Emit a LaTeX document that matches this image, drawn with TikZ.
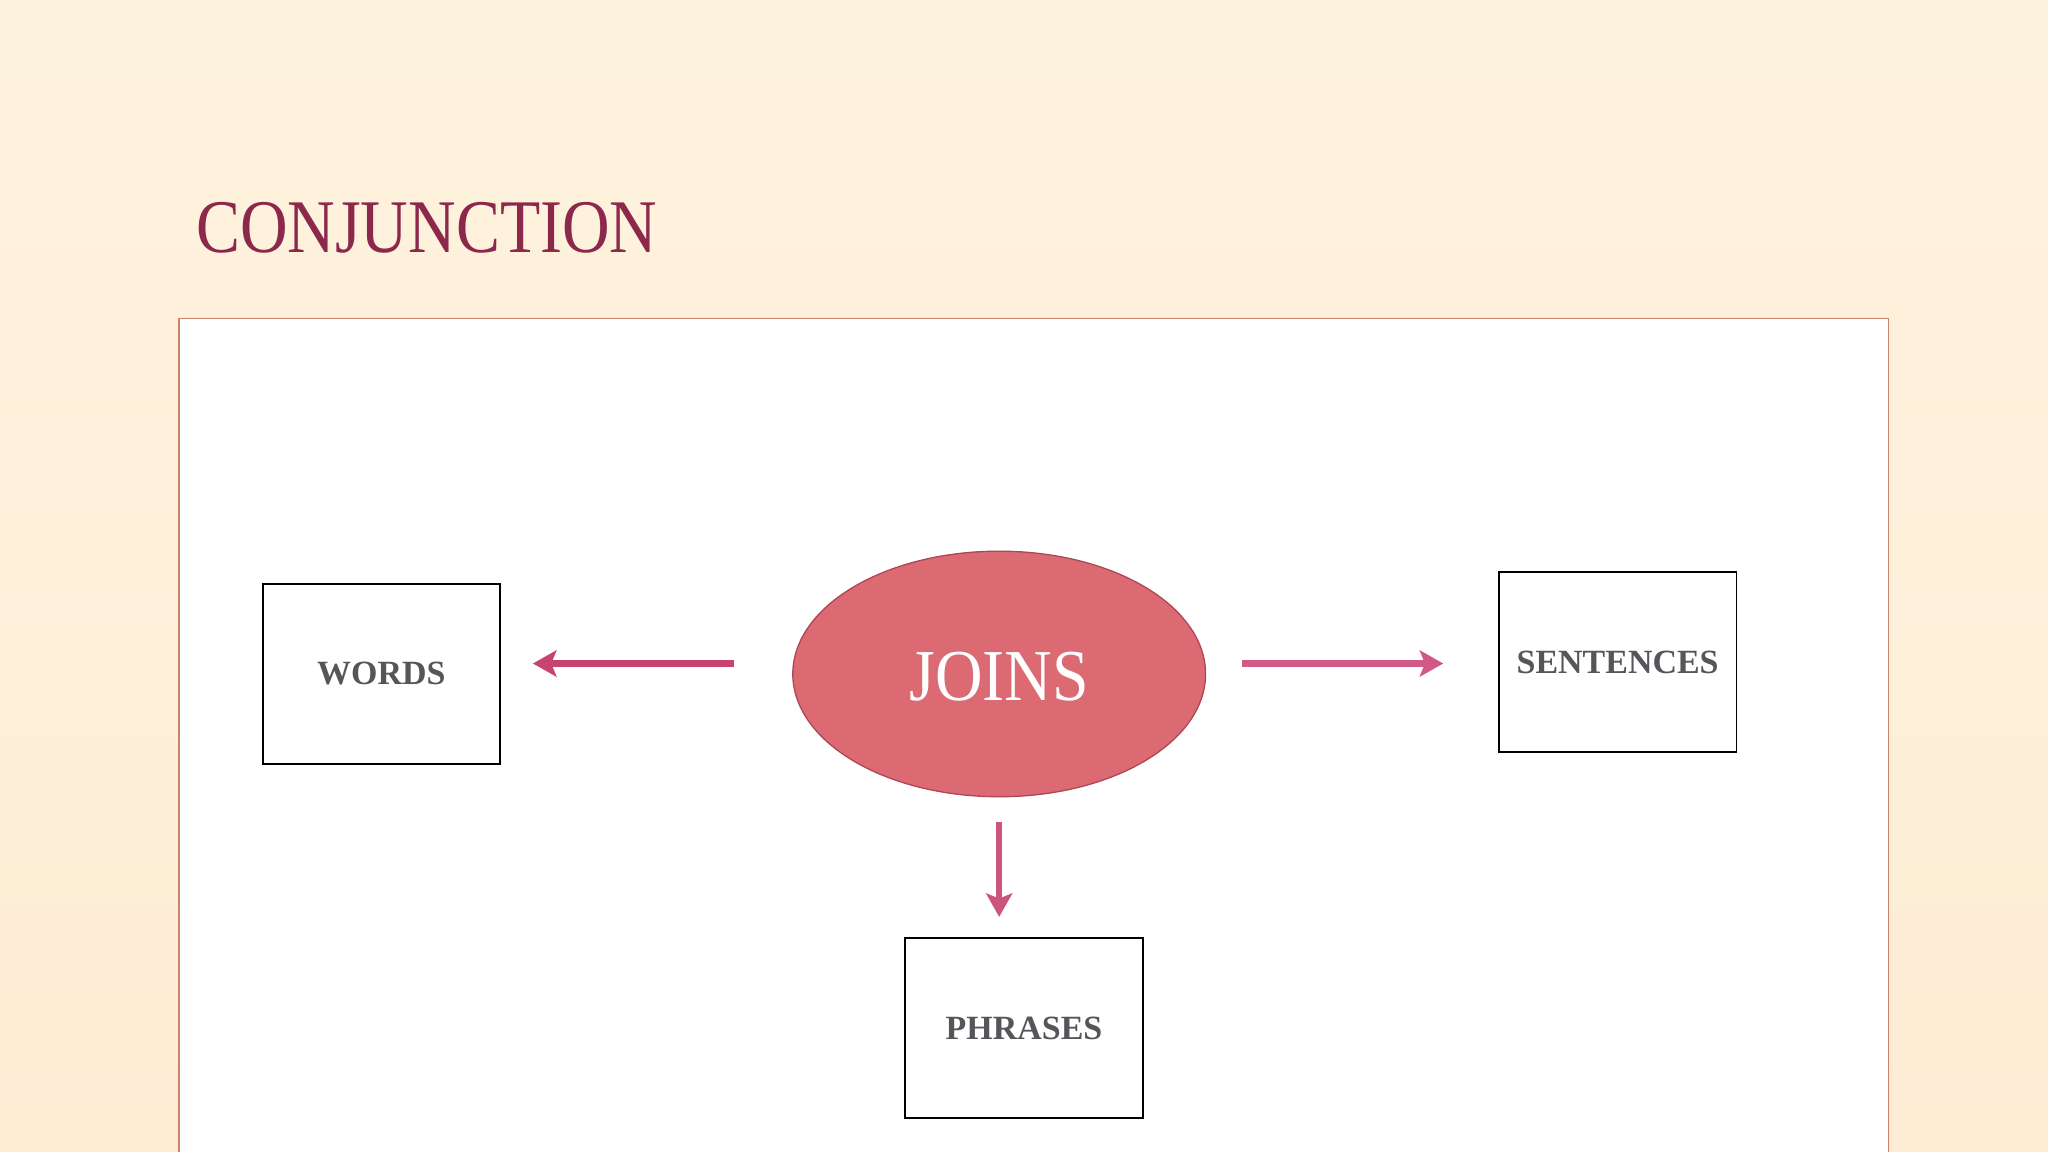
\documentclass[tikz,border=0pt]{standalone}
\usepackage{fontspec}
\setmainfont{Liberation Serif}
\usetikzlibrary{shapes.geometric,arrows.meta}
\definecolor{bgc}{RGB}{253,236,212}
\definecolor{bgtop}{RGB}{254,243,222}
\definecolor{titlec}{RGB}{140,40,75}
\definecolor{ellc}{RGB}{220,106,114}
\definecolor{ellb}{RGB}{175,70,85}
\definecolor{arrc}{RGB}{200,68,112}
\definecolor{txtc}{RGB}{85,85,90}
\tikzset{
 box/.style={draw=black,line width=1.5pt,minimum width=182pt,minimum height=138pt,inner sep=0pt,font=\fontsize{26}{30}\selectfont\bfseries,text=txtc},
 conn/.style={draw=arrc,line width=5pt,-{Stealth[length=18pt,width=20pt,inset=4pt]}}
}
\begin{document}
\begin{tikzpicture}[x=1pt,y=-1pt]
\useasboundingbox (0,0) rectangle (1568,882);
\shade[top color=bgtop,bottom color=bgc] (0,0) rectangle (1568,882);
\fill[white,draw={rgb,255:red,205;green,130;blue,110},line width=1pt] (137,244) rectangle (1446,900);
\node[anchor=base west,text=titlec,font=\fontsize{58}{64}\selectfont,inner sep=0pt,xscale=0.87] (title) at (150,193) {CONJUNCTION};
\node[ellipse,fill=ellc,draw=ellb,line width=1pt,minimum width=316pt,minimum height=188pt,text=white,inner sep=0pt] (joins) at (765,516) {};
\node[text=white,font=\fontsize{56}{60}\selectfont,xscale=0.9] (jt) at (765,518) {JOINS};
\node[box] (words) at (292,516) {WORDS};
\node[box] (sent) at (1238.5,507) {SENTENCES};
\node[box] (phr) at (784,787) {PHRASES};
\coordinate (a1) at (562,508); \coordinate (a2) at (408,508);
\coordinate (b1) at (951,508); \coordinate (b2) at (1105,508);
\coordinate (c1) at (765,629); \coordinate (c2) at (765,702);
\draw[conn] (a1) -- (a2);
\draw[conn,draw={rgb,255:red,208;green,90;blue,133}] (b1) -- (b2);
\draw[conn,draw={rgb,255:red,205;green,85;blue,125}] (c1) -- (c2);
\end{tikzpicture}
\end{document}
